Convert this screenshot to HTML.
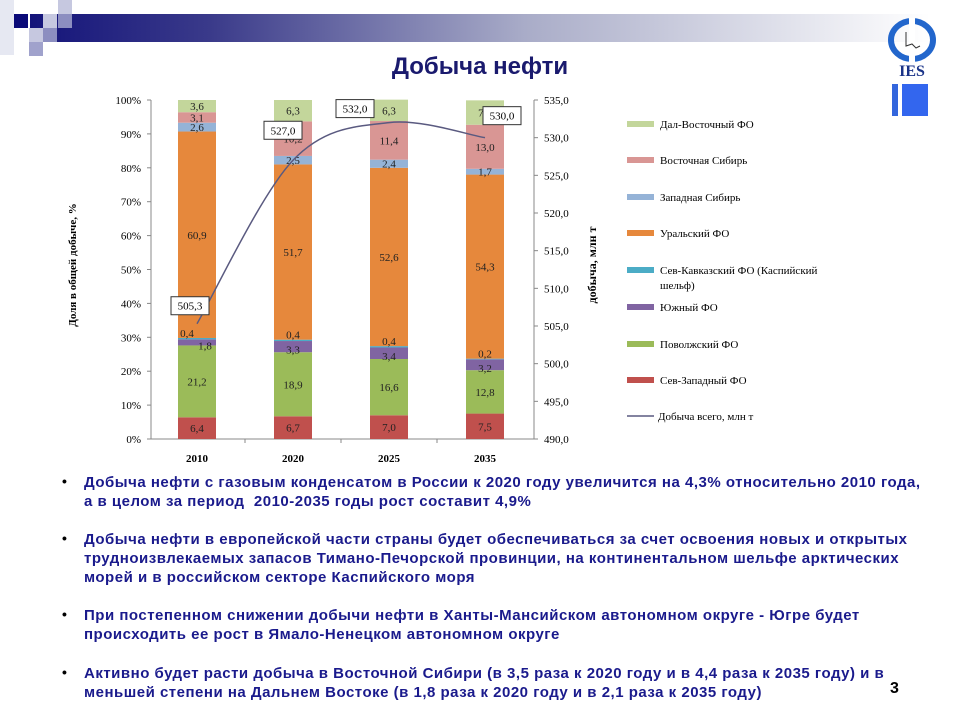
<!DOCTYPE html>
<html><head><meta charset="utf-8"><style>
body{margin:0;background:#fff;width:960px;height:720px;overflow:hidden;position:relative;font-family:"Liberation Sans",sans-serif}
.b{position:absolute;left:62px;color:#000;font-size:14px;font-weight:bold}
.t{position:absolute;left:84px;width:842px;color:#1a1a8c;font-size:15px;font-weight:bold;line-height:19px;letter-spacing:0.5px}
</style></head><body>
<div style="position:absolute;left:30px;top:14px;width:900px;height:28px;background:linear-gradient(90deg,#14147a 0%,#3a3a8a 20%,#a9acc8 55%,#fff 100%)"></div>
<div>
<div style="position:absolute;left:0;top:0;width:14px;height:55px;background:#e6e8f2"></div>
<div style="position:absolute;left:14px;top:14px;width:14px;height:14px;background:#0a0a78"></div>
<div style="position:absolute;left:43px;top:14px;width:14px;height:14px;background:#c6c8e0"></div>
<div style="position:absolute;left:58px;top:0;width:14px;height:14px;background:#c6c8e0"></div>
<div style="position:absolute;left:58px;top:14px;width:14px;height:14px;background:#8c8ec0"></div>
<div style="position:absolute;left:29px;top:28px;width:14px;height:14px;background:#c6c8e0"></div>
<div style="position:absolute;left:43px;top:28px;width:14px;height:14px;background:#8c8ec0"></div>
<div style="position:absolute;left:29px;top:42px;width:14px;height:14px;background:#a0a2cc"></div>
</div>
<div style="position:absolute;left:886px;top:18px;width:52px;height:100px">
<svg width="52" height="100"><ellipse cx="26" cy="22" rx="21" ry="19" fill="none" stroke="#2266cc" stroke-width="6"/><rect x="23" y="0" width="6" height="44" fill="#fff"/><path d="M20 14 L20 28 L26 26 L30 30 L34 28" fill="none" stroke="#333" stroke-width="1"/><text x="26" y="58" text-anchor="middle" font-family="Liberation Serif" font-weight="bold" font-size="16" fill="#1a3388">IES</text><rect x="6" y="66" width="6" height="32" fill="#3366dd"/><rect x="16" y="66" width="26" height="32" fill="#3366ee"/></svg></div>
<div style="position:absolute;left:0;width:960px;top:53px;text-align:center;font-size:24px;font-weight:bold;color:#1a1a6e">Добыча нефти</div>
<svg id="chart" width="960" height="470" style="position:absolute;left:0;top:0" font-family="Liberation Serif,serif"></svg>
<div class="b" style="top:473px">•</div><div class="t" style="top:473px">Добыча нефти с газовым конденсатом в России к 2020 году увеличится на 4,3% относительно 2010 года, а в целом за период&nbsp; 2010-2035 годы рост составит 4,9%</div>
<div class="b" style="top:530px">•</div><div class="t" style="top:530px">Добыча нефти в европейской части страны будет обеспечиваться за счет освоения новых и открытых трудноизвлекаемых запасов Тимано-Печорской провинции, на континентальном шельфе арктических морей и в российском секторе Каспийского моря</div>
<div class="b" style="top:606px">•</div><div class="t" style="top:606px">При постепенном снижении добычи нефти в Ханты-Мансийском автономном округе - Югре будет происходить ее рост в Ямало-Ненецком автономном округе</div>
<div class="b" style="top:664px">•</div><div class="t" style="top:664px">Активно будет расти добыча в Восточной Сибири (в 3,5 раза к 2020 году и в 4,4 раза к 2035 году) и в меньшей степени на Дальнем Востоке (в 1,8 раза к 2020 году и в 2,1 раза к 2035 году)</div>
<div style="position:absolute;left:890px;top:680px;font-size:16px;font-weight:bold">3</div>
<script>
const years=["2010","2020","2025","2035"];
const seriesNames=["Сев-Западный ФО","Поволжский ФО","Южный ФО","Сев-Кавказский ФО (Каспийский шельф)","Уральский ФО","Западная Сибирь","Восточная Сибирь","Дал-Восточный ФО"];
const szfo=[6.4,6.7,7.0,7.5];
const pfo=[21.2,18.9,16.6,12.8];
const yfo=[1.8,3.3,3.4,3.2];
const skfo=[0.4,0.4,0.4,0.2];
const ufo=[60.9,51.7,52.6,54.3];
const zsib=[2.6,2.5,2.4,1.7];
const vsib=[3.1,10.2,11.4,13.0];
const dvfo=[3.6,6.3,6.3,7.2];
const total=[505.3,527.0,532.0,530.0];
const leftTicks=["0%","10%","20%","30%","40%","50%","60%","70%","80%","90%","100%"];
const rightTicks=[490,495,500,505,510,515,520,525,530,535];
const colors=["#c0504d","#9bbb59","#8064a2","#4bacc6","#e6883c","#95b3d7","#d99694","#c3d69b"];
const S="http://www.w3.org/2000/svg",svg=document.getElementById('chart');
const X0=151,X1=534,Y0=439,Y1=100;
const yL=v=>Y0-(Y0-Y1)*v/100, yR=v=>Y0-(Y0-Y1)*(v-490)/45;
const xC=i=>197+i*96;
function el(t,a,p){const e=document.createElementNS(S,t);for(const k in a)e.setAttribute(k,a[k]);(p||svg).appendChild(e);return e}
const data=[szfo,pfo,yfo,skfo,ufo,zsib,vsib,dvfo];
let ax=el('line',{x1:X0,y1:Y1,x2:X0,y2:Y0,stroke:'#888'});
ax=el('line',{x1:X1,y1:Y1,x2:X1,y2:Y0,stroke:'#888'});
ax=el('line',{x1:X0,y1:Y0,x2:X1,y2:Y0,stroke:'#888'});
leftTicks.forEach((t,i)=>{const y=yL(i*10);el('line',{x1:X0-4,y1:y,x2:X0,y2:y,stroke:'#888'});
 const tx=el('text',{x:X0-10,y:y+4,'text-anchor':'end','font-size':11});tx.textContent=t;});
rightTicks.forEach(v=>{const y=yR(v);el('line',{x1:X1,y1:y,x2:X1+4,y2:y,stroke:'#888'});
 const tx=el('text',{x:X1+10,y:y+4,'font-size':11});tx.textContent=v.toFixed(1).replace('.',',');});
[245,341,437].forEach(x=>el('line',{x1:x,y1:Y0,x2:x,y2:Y0+4,stroke:'#888'}));
let at=el('text',{transform:'translate(76,265) rotate(-90)','text-anchor':'middle','font-size':11,'font-weight':'bold'});at.textContent='Доля в общей добыче, %';
at=el('text',{transform:'translate(596,265) rotate(-90)','text-anchor':'middle','font-size':12,'font-weight':'bold'});at.textContent='добыча, млн т';
const labels=[];
years.forEach((yr,i)=>{let c=0;
 data.forEach((s,k)=>{const v=s[i],yt=yL(c+v),yb=yL(c);
  const r=el('rect',{x:xC(i)-19,y:yt,width:38,height:yb-yt,fill:colors[k]});
  
  let ly=(yt+yb)/2+4; if(k==2)ly+=3; if(k==3)ly=yt-1;
  labels.push([xC(i)+(k==3&&i==0?-10:0)+(k==2&&i==0?8:0),ly,v]);
  c+=v;});
 const yl=el('text',{x:xC(i),y:462,'text-anchor':'middle','font-size':11,'font-weight':'bold'});yl.textContent=yr;
});
labels.forEach(([x,y,v])=>{const tx=el('text',{x:x,y:y,'text-anchor':'middle','font-size':11,fill:'#222'});tx.textContent=v.toFixed(1).replace('.',',');
  });
const pts=total.map((v,i)=>[xC(i),yR(v)]);
let d='M'+pts[0][0]+','+pts[0][1];
for(let i=0;i<pts.length-1;i++){const p0=pts[Math.max(0,i-1)],p1=pts[i],p2=pts[i+1],p3=pts[Math.min(pts.length-1,i+2)];
 d+=' C'+(p1[0]+(p2[0]-p0[0])/6)+','+(p1[1]+(p2[1]-p0[1])/6)+' '+(p2[0]-(p3[0]-p1[0])/6)+','+(p2[1]-(p3[1]-p1[1])/6)+' '+p2[0]+','+p2[1];}
const ln=el('path',{d:d,fill:'none',stroke:'#5a5a80','stroke-width':1.5});
const off=[[-7,-18],[-10,-30],[-34,-14],[17,-22]];
total.forEach((v,i)=>{const x=pts[i][0]+off[i][0],y=pts[i][1]+off[i][1];
 const g=el('g',{});
 el('rect',{x:x-19,y:y-9,width:38,height:18,fill:'#fff',stroke:'#333'},g);
 const tx=el('text',{x:x,y:y+4,'text-anchor':'middle','font-size':11},g);tx.textContent=v.toFixed(1).replace('.',',');});
const leg=[[7,124],[6,160],[5,197],[4,233],[3,270],[2,307],[1,344],[0,380]];
leg.forEach(([k,y])=>{const g=el('g',{});
 el('rect',{x:627,y:y-3,width:27,height:6,fill:colors[k]},g);
 const tx=el('text',{x:660,y:y+4,'font-size':11},g);
 if(k==3){tx.textContent='Сев-Кавказский ФО (Каспийский';const t2=el('text',{x:660,y:y+19,'font-size':11},g);t2.textContent='шельф)';}
 else tx.textContent=seriesNames[k];});
const g=el('g',{});
el('line',{x1:627,y1:416,x2:654,y2:416,stroke:'#5a5a80','stroke-width':1.5},g);
const tt=el('text',{x:658,y:420,'font-size':11},g);tt.textContent='Добыча всего, млн т';
</script>
</body></html>
